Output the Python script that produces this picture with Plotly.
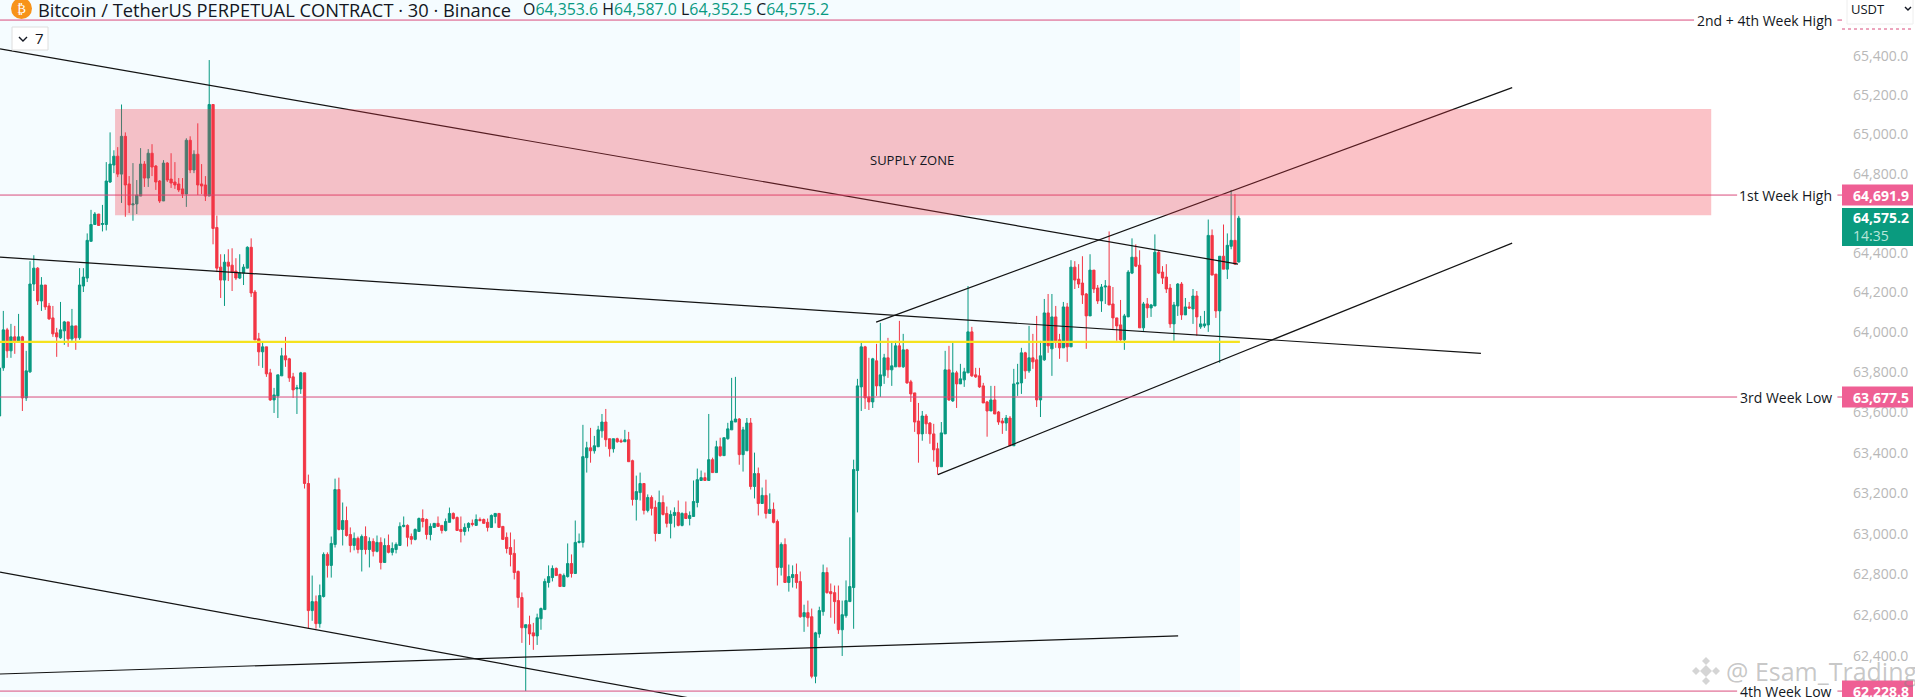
"""
BTCUSDT perpetual, 30 min candles with weekly levels and a supply zone.
"""

import math
import plotly.graph_objects as go

WIDTH = 1915
HEIGHT = 697
PLOT_W = 1842

opens = [
    63583, 63823, 64013, 63908, 63978, 63953, 63978, 63673, 63803, 64243,
    64323, 64158, 64238, 64133, 64073, 63998, 63973, 64008, 64053, 63968,
    64033, 63973, 64233, 64273, 64458, 64543, 64596, 64543, 64543, 64758,
    64844, 64889, 64798, 64990, 64748, 64642, 64647, 64687, 64849, 64778,
    64904, 64839, 64763, 64662, 64854, 64773, 64758, 64748, 64723, 64697,
    64970, 64819, 64899, 64748, 64743, 64687, 65152, 64528, 64328, 64263,
    64353, 64338, 64308, 64273, 64298, 64323, 64428, 64203, 63968, 63903,
    63928, 63798, 63663, 63683, 63783, 63883, 63868, 63778, 63718, 63718,
    63798, 63248, 62622, 62666, 62558, 62691, 62898, 62844, 62947, 63218,
    63021, 63065, 62996, 62942, 62977, 62922, 62986, 62922, 62962, 62913,
    62957, 62858, 62942, 62908, 62922, 62942, 63036, 63041, 62986, 62972,
    63011, 63075, 63070, 62996, 63031, 63051, 63041, 63016, 63056, 63100,
    63080, 63021, 63011, 63031, 63051, 63041, 63070, 63070, 63056, 63031,
    63085, 63100, 63036, 62982, 62932, 62903, 62814, 62686, 62538, 62553,
    62513, 62498, 62582, 62627, 62760, 62784, 62829, 62799, 62740, 62789,
    62853, 62804, 62957, 62957, 63376, 63425, 63410, 63430, 63509, 63553,
    63470, 63420, 63470, 63460, 63455, 63465, 63361, 63169, 63203, 63248,
    63115, 63179, 63130, 63001, 63154, 63100, 63051, 63090, 63105, 63041,
    63100, 63075, 63085, 63154, 63263, 63277, 63263, 63366, 63302, 63430,
    63386, 63470, 63514, 63553, 63568, 63391, 63410, 63548, 63233, 63297,
    63149, 63189, 63100, 63120, 63060, 62834, 62947, 62760, 62784, 62799,
    62765, 62592, 62612, 62592, 62301, 62508, 62617, 62809, 62715, 62710,
    62671, 62528, 62597, 62666, 62735, 63312, 63728, 63928, 63678, 63653,
    63858, 63733, 63783, 63873, 63813, 63828, 63933, 63828, 63913, 63753,
    63698, 63558, 63494, 63583, 63548, 63494, 63420, 63331, 63494, 63813,
    63658, 63798, 63743, 63763, 63798, 64003, 63788, 63783, 63733, 63653,
    63608, 63663, 63603, 63558, 63548, 63573, 63435, 63743, 63748, 63898,
    63808, 63873, 63863, 63663, 63863, 64098, 63918, 64078, 63963, 63923,
    64128, 63928, 64328, 64268, 64248, 64193, 64083, 64313, 64223, 64158,
    64228, 64233, 64143, 64073, 64038, 63963, 64078, 64298, 64378, 64338,
    64023, 64143, 64123, 64133, 64403, 64303, 64278, 64223, 64043, 64133,
    64243, 64088, 64128, 64118, 64183, 64028, 64033, 64038, 64488, 64293,
    64108, 64383, 64318, 64433, 64463, 64353.6,
]
closes = [
    63822, 64013, 63908, 63978, 63958, 63978, 63673, 63808, 64243, 64323,
    64158, 64238, 64128, 64068, 63993, 63978, 64013, 64053, 63968, 64033,
    63973, 64238, 64278, 64463, 64543, 64596, 64538, 64548, 64763, 64849,
    64889, 64798, 64990, 64743, 64642, 64647, 64692, 64849, 64778, 64904,
    64834, 64758, 64662, 64854, 64768, 64753, 64743, 64718, 64697, 64970,
    64819, 64899, 64743, 64738, 64687, 65152, 64523, 64323, 64263, 64353,
    64333, 64303, 64273, 64298, 64328, 64428, 64198, 63963, 63903, 63928,
    63793, 63663, 63688, 63788, 63883, 63863, 63773, 63713, 63723, 63798,
    63248, 62622, 62666, 62558, 62696, 62898, 62844, 62952, 63218, 63021,
    63065, 62991, 62942, 62977, 62922, 62986, 62922, 62962, 62913, 62957,
    62858, 62942, 62908, 62927, 62947, 63036, 63041, 62982, 62972, 63021,
    63075, 63060, 62996, 63036, 63051, 63036, 63016, 63060, 63100, 63075,
    63016, 63011, 63031, 63051, 63046, 63070, 63065, 63051, 63031, 63090,
    63100, 63031, 62972, 62927, 62898, 62809, 62686, 62538, 62553, 62508,
    62498, 62587, 62632, 62765, 62789, 62829, 62794, 62740, 62794, 62853,
    62804, 62957, 62962, 63381, 63425, 63410, 63435, 63514, 63553, 63465,
    63420, 63470, 63455, 63455, 63465, 63356, 63169, 63208, 63248, 63115,
    63179, 63125, 63001, 63154, 63095, 63051, 63095, 63105, 63041, 63100,
    63075, 63090, 63159, 63267, 63277, 63263, 63366, 63302, 63430, 63386,
    63475, 63519, 63558, 63568, 63391, 63514, 63548, 63233, 63297, 63149,
    63189, 63100, 63120, 63056, 62834, 62947, 62760, 62789, 62799, 62760,
    62592, 62612, 62587, 62301, 62513, 62622, 62809, 62710, 62705, 62666,
    62528, 62602, 62671, 62740, 63317, 63733, 63928, 63673, 63653, 63868,
    63733, 63788, 63873, 63813, 63833, 63933, 63828, 63913, 63748, 63693,
    63553, 63494, 63583, 63544, 63494, 63415, 63331, 63499, 63813, 63663,
    63798, 63743, 63768, 63803, 64003, 63783, 63778, 63728, 63648, 63608,
    63663, 63593, 63553, 63548, 63573, 63435, 63743, 63748, 63898, 63808,
    63873, 63853, 63663, 63883, 64098, 63933, 64078, 63958, 63923, 64128,
    63928, 64328, 64263, 64243, 64188, 64083, 64313, 64218, 64158, 64228,
    64233, 64138, 64073, 64033, 63963, 64083, 64303, 64378, 64333, 64023,
    64143, 64123, 64138, 64403, 64298, 64273, 64218, 64043, 64138, 64243,
    64088, 64128, 64123, 64183, 64078, 64043, 64043, 64488, 64288, 64108,
    64383, 64318, 64438, 64463, 64343, 64575.2,
]
highs = [
    63858, 64108, 64023, 64043, 64033, 64093, 63983, 63908, 64358, 64388,
    64328, 64278, 64238, 64148, 64133, 64023, 64153, 64058, 64053, 64118,
    64033, 64323, 64323, 64498, 64617, 64606, 64596, 64642, 64859, 65010,
    64919, 64935, 65152, 65010, 64788, 64854, 64768, 64930, 64864, 64925,
    64950, 64844, 64768, 64869, 64859, 64904, 64859, 64778, 64778, 64980,
    64990, 64919, 65056, 64849, 64788, 65379, 65152, 64588, 64393, 64393,
    64418, 64423, 64373, 64393, 64343, 64433, 64473, 64213, 63998, 63948,
    63928, 63818, 63723, 63788, 63923, 63978, 63873, 63798, 63738, 63803,
    63798, 63292, 62794, 62696, 62750, 62908, 62908, 62986, 63272, 63277,
    63154, 63134, 63031, 63006, 62986, 62996, 63036, 62982, 62977, 62991,
    62982, 62977, 62996, 62957, 62957, 63056, 63085, 63046, 63001, 63026,
    63080, 63120, 63075, 63051, 63051, 63085, 63041, 63075, 63129, 63105,
    63085, 63085, 63051, 63056, 63070, 63095, 63080, 63075, 63075, 63095,
    63100, 63100, 63036, 63006, 63006, 62972, 62819, 62711, 62553, 62597,
    62562, 62607, 62637, 62779, 62844, 62844, 62834, 62804, 62804, 62952,
    62898, 63065, 63001, 63539, 63455, 63524, 63484, 63534, 63593, 63618,
    63470, 63470, 63475, 63470, 63514, 63504, 63366, 63287, 63302, 63248,
    63194, 63189, 63164, 63213, 63189, 63134, 63115, 63130, 63164, 63105,
    63159, 63110, 63263, 63322, 63312, 63302, 63593, 63376, 63460, 63475,
    63475, 63549, 63773, 63778, 63573, 63529, 63573, 63573, 63401, 63327,
    63228, 63267, 63199, 63154, 63070, 62957, 62977, 62848, 62844, 62853,
    62814, 62651, 62671, 62632, 62518, 62641, 62848, 62834, 62755, 62745,
    62745, 62671, 62770, 62982, 63366, 63768, 63948, 63933, 63873, 63873,
    63943, 64048, 63893, 63973, 63953, 63958, 64058, 63993, 63918, 63763,
    63698, 63648, 63608, 63593, 63553, 63544, 63450, 63553, 63908, 63933,
    63948, 63808, 63843, 63823, 64233, 64028, 63823, 63823, 63748, 63658,
    63733, 63733, 63608, 63573, 63588, 63583, 63818, 63843, 63923, 63903,
    64033, 63993, 64083, 63958, 64168, 64193, 64193, 64133, 63993, 64153,
    64148, 64363, 64358, 64343, 64383, 64198, 64393, 64313, 64238, 64243,
    64263, 64508, 64228, 64073, 64163, 64093, 64313, 64473, 64443, 64413,
    64153, 64173, 64143, 64493, 64413, 64333, 64343, 64243, 64153, 64248,
    64253, 64173, 64153, 64218, 64208, 64083, 64108, 64568, 64518, 64293,
    64383, 64543, 64498, 64718, 64697, 64587.0,
]
lows = [
    63534, 63808, 63873, 63873, 63893, 63948, 63608, 63658, 63798, 64208,
    64138, 64108, 64113, 64063, 63978, 63878, 63968, 63938, 63928, 63958,
    63913, 63963, 64203, 64253, 64458, 64543, 64538, 64508, 64513, 64753,
    64803, 64783, 64652, 64582, 64601, 64562, 64596, 64687, 64733, 64733,
    64788, 64718, 64652, 64662, 64758, 64728, 64723, 64707, 64677, 64632,
    64803, 64803, 64692, 64697, 64662, 64687, 64443, 64303, 64173, 64133,
    64258, 64208, 64263, 64268, 64238, 64323, 64178, 63963, 63833, 63823,
    63778, 63658, 63598, 63573, 63783, 63828, 63753, 63673, 63593, 63693,
    63223, 62533, 62572, 62533, 62538, 62686, 62784, 62784, 62932, 63016,
    62942, 62986, 62908, 62918, 62903, 62814, 62898, 62834, 62888, 62908,
    62824, 62858, 62903, 62893, 62903, 62942, 63031, 62937, 62947, 62967,
    63011, 63031, 62972, 62967, 63031, 63036, 63001, 63011, 63056, 63070,
    63016, 62957, 62991, 63011, 63036, 63041, 63060, 63051, 63011, 63031,
    63051, 63031, 62972, 62903, 62839, 62775, 62636, 62464, 62229, 62454,
    62430, 62454, 62528, 62627, 62735, 62765, 62794, 62740, 62740, 62784,
    62784, 62804, 62952, 62932, 63302, 63351, 63396, 63430, 63475, 63430,
    63381, 63401, 63450, 63450, 63455, 63356, 63139, 63065, 63164, 63095,
    63105, 63090, 62962, 63001, 63090, 63031, 62977, 63031, 63036, 63036,
    63075, 63041, 63085, 63130, 63263, 63263, 63263, 63302, 63302, 63381,
    63386, 63465, 63514, 63553, 63341, 63307, 63410, 63218, 63174, 63090,
    63149, 63075, 63100, 63051, 62745, 62794, 62760, 62715, 62735, 62730,
    62587, 62518, 62543, 62291, 62267, 62489, 62597, 62705, 62587, 62558,
    62508, 62400, 62587, 62666, 62533, 63105, 63608, 63618, 63613, 63623,
    63683, 63678, 63743, 63773, 63733, 63828, 63828, 63823, 63743, 63653,
    63504, 63351, 63460, 63494, 63445, 63356, 63292, 63331, 63494, 63658,
    63653, 63623, 63743, 63728, 63798, 63778, 63773, 63723, 63648, 63480,
    63608, 63593, 63539, 63494, 63509, 63435, 63435, 63683, 63693, 63768,
    63798, 63818, 63628, 63578, 63858, 63898, 63783, 63923, 63868, 63923,
    63853, 63928, 64218, 64223, 64143, 63918, 64083, 64198, 64143, 64103,
    64143, 64138, 64018, 63958, 63958, 63913, 64078, 64293, 64328, 64023,
    64008, 64073, 64078, 64133, 64293, 64243, 64198, 64023, 63958, 64083,
    64063, 64088, 64118, 64043, 63983, 64018, 64023, 64003, 64288, 64073,
    63848, 64318, 64268, 64418, 64343, 64352.5,
]
assert len(opens) == len(closes) == len(highs) == len(lows) == 326

tick_vals = [65400, 65200, 65000, 64800, 64600, 64400, 64200, 64000,
             63800, 63600, 63400, 63200, 63000, 62800, 62600, 62400]
tick_text = [f"{v:,.1f}" for v in tick_vals]

# drawn trend lines: bar index and price at both ends
trend_x = [(0.13, 324.8), (0.13, 388.5), (0.13, 183.7), (0.13, 309.1), (246.1, 396.7), (229.9, 396.7)]
trend_y = [(65436, 64343), (64378, 63895), (62811, 62186), (62312, 62498), (63292, 64449), (64052, 65238)]

yellow_x = [0.13, 325.3]
yellow_y = 63953

level_prices = [65584, 64691.9, 63677.5, 62228.8]
level_labels = ["2nd + 4th Week High", "1st Week High", "3rd Week Low", "4th Week Low"]
level_ends = [444.4, 455.7, 455.7, 455.7]
tag_prices = [64691.9, 63677.5, 62228.8]

zone_x = [30.3, 448.9]
zone_y = [65129, 64590]

Y_LO = math.log10(62200)
Y_HI = math.log10(65687)
X_LO = 0.13
X_HI = 483.2

PINK = "#d94c7c"
TAG_PINK = "#ef5f94"
GREEN = "#089981"
RED = "#f23645"
FONT = "Open Sans"


def px(x):
    return x / PLOT_W


def py(y):
    return 1 - y / HEIGHT


def price_y(p):
    return (math.log10(p) - Y_LO) / (Y_HI - Y_LO)


def box(x0, y0, x1, y1, fill, line=None):
    return dict(type="rect", xref="paper", yref="paper", x0=px(x0), x1=px(x1),
                y0=py(y0), y1=py(y1), fillcolor=fill, layer="above",
                line=dict(color=line or fill, width=1 if line else 0))


def poly(points, fill=None, color=None, width=1, dash="solid"):
    path = "M " + " L ".join(f"{px(a):.5f},{py(b):.5f}" for a, b in points)
    if fill:
        path += " Z"
    return dict(type="path", xref="paper", yref="paper", path=path, layer="above",
                fillcolor=fill or "rgba(0,0,0,0)",
                line=dict(color=color or "rgba(0,0,0,0)", width=width, dash=dash))


def label(x, y, text, size=14, color="#131722", anchor="left", **kw):
    return dict(xref="paper", yref="paper", x=px(x), y=py(y), text=text, showarrow=False,
                xanchor=anchor, yanchor="middle", font=dict(family=kw.pop("family", FONT), size=size, color=color),
                borderpad=0, **kw)


fig = go.Figure()

fig.add_trace(go.Candlestick(
    x=list(range(len(opens))), open=opens, high=highs, low=lows, close=closes,
    increasing=dict(line=dict(color=GREEN, width=1), fillcolor=GREEN),
    decreasing=dict(line=dict(color=RED, width=1), fillcolor=RED),
    whiskerwidth=0, hoverinfo="skip", showlegend=False,
))

fig.add_trace(go.Scatter(x=yellow_x, y=[yellow_y, yellow_y], mode="lines", hoverinfo="skip",
                         line=dict(color="#f5e21f", width=2.4), showlegend=False))

for xs, ys in zip(trend_x, trend_y):
    fig.add_trace(go.Scatter(x=list(xs), y=list(ys), mode="lines", hoverinfo="skip",
                             line=dict(color="#131313", width=1.2), showlegend=False))

for price, end in zip(level_prices, level_ends):
    fig.add_trace(go.Scatter(x=[X_LO, end, None, 482.0, 483.2], y=[price, price, None, price, price],
                             mode="lines", hoverinfo="skip", line=dict(color=PINK, width=1), showlegend=False,
                             connectgaps=False))

shapes = [
    # session background behind the candles
    dict(type="rect", xref="paper", yref="paper", x0=0, x1=px(1240), y0=0, y1=1,
         fillcolor="#f5fcff", line=dict(width=0), layer="below"),
    # supply zone sits over the candles and tints them
    dict(type="rect", xref="x", yref="y", x0=zone_x[0], x1=zone_x[1], y0=zone_y[0], y1=zone_y[1],
         fillcolor="rgba(242,54,69,0.3)", line=dict(width=0), layer="above"),
    box(1847, -1, 1913, 24, "#ffffff", "#eeeeee"),
    box(12, 27, 48, 50, "#ffffff", "#dedede"),
    poly([(19, 37), (23, 41), (27, 37)], color="#131722", width=1.4),
    poly([(1905, 7), (1908, 10), (1911, 7)], color="#131722", width=1.4),
    poly([(1842, 29), (1912, 29)], color=PINK, width=1, dash="dot"),
    dict(type="circle", xref="paper", yref="paper", x0=px(11), x1=px(32), y0=py(-2), y1=py(19),
         fillcolor="#f7931a", line=dict(width=0), layer="above"),
    box(1842, 208, 1913, 246, "#0a9b7f"),
]
for p in tag_prices:
    mid = (1 - price_y(p)) * HEIGHT
    shapes.append(box(1842, mid - 10.5, 1913, mid + 10.5, TAG_PINK))

# watermark logo
logo = "rgba(150,150,150,0.4)"
for cx, cy, r in [(1706, 671, 6), (1696, 671, 4), (1716, 671, 4), (1706, 661, 4), (1706, 681, 4)]:
    shapes.append(poly([(cx, cy - r), (cx + r, cy), (cx, cy + r), (cx - r, cy)], fill=logo))

annotations = [
    label(37, 9, "Bitcoin / TetherUS PERPETUAL CONTRACT · 30 · Binance", size=18.3),
    label(522, 9, ("O<span style='color:#089981'>64,353.6</span> H<span style='color:#089981'>64,587.0</span> "
                   "L<span style='color:#089981'>64,352.5</span> C<span style='color:#089981'>64,575.2</span>"), size=15.9),
    label(21.5, 8.5, "₿", size=13, color="#ffffff", anchor="center", family="DejaVu Sans"),
    label(34, 38.5, "7", size=15),
    label(1850, 9, "USDT", size=13),
    label(912, 160, "SUPPLY ZONE", size=13, anchor="center"),
    label(1852, 218, "<b>64,575.2</b>", size=14, color="#ffffff"),
    label(1852, 235, "14:35", size=14, color="#b9e6da"),
    label(1725, 671, "@ Esam_Trading", size=25, color="rgba(130,130,130,0.45)"),
]
for p, text in zip(level_prices, level_labels):
    y = (1 - price_y(p)) * HEIGHT
    annotations.append(label(1833, y, text, size=14, anchor="right"))
for p in tag_prices:
    y = (1 - price_y(p)) * HEIGHT
    annotations.append(label(1852, y, f"<b>{p:,.1f}</b>", size=14, color="#ffffff"))

fig.update_layout(
    width=WIDTH,
    height=HEIGHT,
    margin=dict(l=0, r=WIDTH - PLOT_W, t=0, b=0),
    paper_bgcolor="#ffffff",
    plot_bgcolor="#ffffff",
    font_family=FONT,
    showlegend=False,
    shapes=shapes,
    annotations=annotations,
    boxgap=0.15,
    xaxis=dict(range=[X_LO, X_HI], visible=False, rangeslider=dict(visible=False), fixedrange=True),
    yaxis=dict(
        type="log", range=[Y_LO, Y_HI], side="right", showgrid=False, zeroline=False, showline=False,
        tickmode="array", tickvals=tick_vals, ticktext=tick_text, ticks="", ticklabelstandoff=10,
        tickfont=dict(family=FONT, size=14, color="#b8b8b8"), fixedrange=True,
    ),
)

fig.write_html(
    "out.html",
    config={"displayModeBar": False},
    post_script="document.body.style.margin='0';document.body.style.overflow='hidden';",
)
